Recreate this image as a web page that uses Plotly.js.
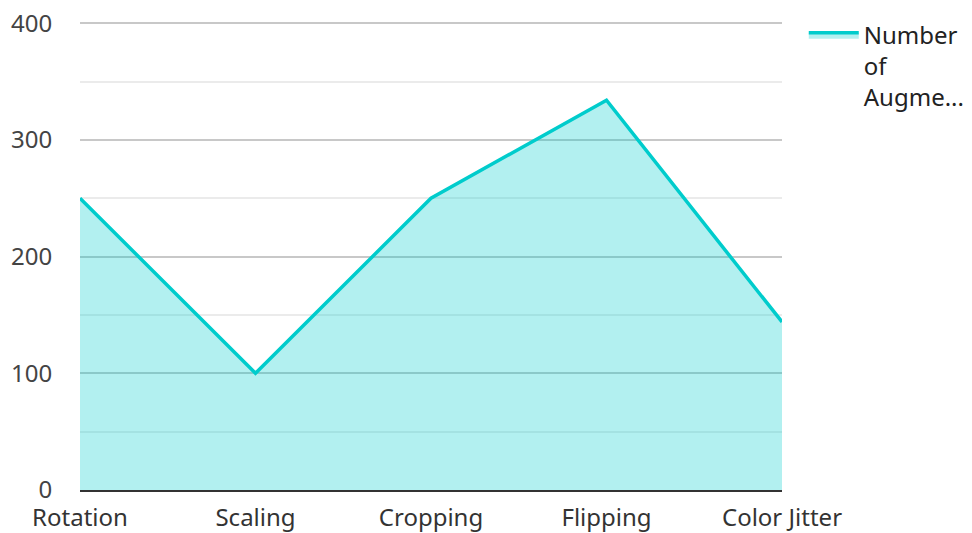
<!DOCTYPE html>
<html><head><meta charset="utf-8">
<script src="https://cdn.plot.ly/plotly-3.0.1.min.js"></script>
<style>html,body{margin:0;padding:0;background:#fff;}#chart{width:972px;height:533px;}</style>
</head><body><div id="chart"></div>
<script>
const categories = ["Rotation", "Scaling", "Cropping", "Flipping", "Color Jitter"];
const values = [250, 100, 250, 334, 144];
const seriesName = "Number<br>of<br>Augme...";
const yTicks = [0, 100, 200, 300, 400];

const trace = {
  x: categories, y: values, type: 'scatter', mode: 'lines',
  name: seriesName, fill: 'tozeroy',
  fillcolor: 'rgba(0,204,204,0.3)',
  line: {color: '#00cccc', width: 3.5}
};
const layout = {
  width: 972, height: 533,
  margin: {l: 80, r: 190, t: 22, b: 43, autoexpand: false},
  paper_bgcolor: '#fff', plot_bgcolor: '#fff',
  font: {family: 'Noto Sans, Open Sans, sans-serif', size: 24, color: '#333'},
  showlegend: true,
  legend: {x: 1.031, y: 1.02, xanchor: 'left', yanchor: 'top', valign: 'top', itemwidth: 50,
           font: {size: 24, color: '#222'}, bgcolor: 'rgba(0,0,0,0)'},
  xaxis: {type: 'category', range: [0, 4], showgrid: false, zeroline: false,
          showline: true, linecolor: '#333', linewidth: 2,
          ticks: 'outside', ticklen: 5, tickcolor: 'rgba(0,0,0,0)',
          tickfont: {size: 24, color: '#333'}},
  yaxis: {range: [0, 401], tickvals: yTicks, showgrid: true, gridcolor: '#c8c8c8', gridwidth: 2,
          zeroline: false, showline: false,
          minor: {dtick: 50, showgrid: true, gridcolor: '#ebebeb', gridwidth: 2},
          ticks: 'outside', ticklen: 22, tickcolor: 'rgba(0,0,0,0)',
          tickfont: {size: 24, color: '#444'}}
};
Plotly.newPlot('chart', [trace], layout, {displayModeBar: false, staticPlot: true});
</script></body></html>
